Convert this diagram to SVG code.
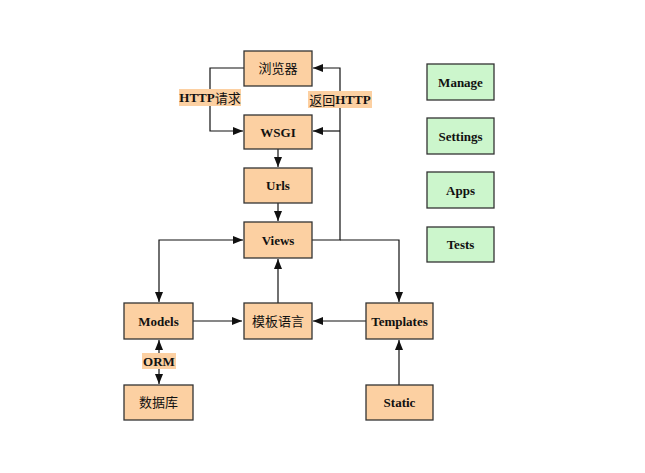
<svg xmlns="http://www.w3.org/2000/svg" width="645" height="473" viewBox="0 0 645 473">
<style>
.o{fill:#fcd0a2;stroke:#333;stroke-width:1.3}
.g{fill:#ccf6cc;stroke:#333;stroke-width:1.3}
.t{font-family:"Liberation Serif","Noto Sans CJK SC",serif;font-weight:bold;font-size:13px;fill:#111;text-anchor:middle;dominant-baseline:central}
.c{font-family:"Liberation Serif","Noto Sans CJK SC",serif;font-size:13px;fill:#111;text-anchor:middle;dominant-baseline:central}
.l{fill:none;stroke:#111;stroke-width:1.2}
.lb{fill:#fcd0a2}
</style>
<defs>
<marker id="a" viewBox="0 0 10 8" refX="10" refY="4" markerWidth="10" markerHeight="8" markerUnits="userSpaceOnUse" orient="auto-start-reverse"><path d="M0,0L10,4L0,8z" fill="#111"/></marker>
</defs>
<rect width="645" height="473" fill="#fff"/>
<g id="connectors">
<path class="l" d="M244,68H210V131H243" marker-end="url(#a)"/>
<path class="l" d="M312,240H340V68H313" marker-end="url(#a)"/>
<path class="l" d="M340,131H313" marker-end="url(#a)"/>
<path class="l" d="M278,149V167" marker-end="url(#a)"/>
<path class="l" d="M278,203V221" marker-end="url(#a)"/>
<path class="l" d="M243,240H159V302" marker-end="url(#a)" marker-start="url(#a)"/>
<path class="l" d="M340,240H399V302" marker-end="url(#a)"/>
<path class="l" d="M278,303V259" marker-end="url(#a)"/>
<path class="l" d="M193,321H242" marker-end="url(#a)"/>
<path class="l" d="M366,321H313" marker-end="url(#a)"/>
<path class="l" d="M399,385V340" marker-end="url(#a)"/>
<path class="l" d="M159,340V384" marker-end="url(#a)" marker-start="url(#a)"/>
<rect class="lb" x="179" y="89" width="62" height="17"/>
<text class="t" x="210" y="97.5">HTTP<tspan font-weight="normal">请求</tspan></text>
<rect class="lb" x="308" y="91" width="64" height="17"/>
<text class="t" x="340" y="99.5"><tspan font-weight="normal">返回</tspan>HTTP</text>
<rect class="lb" x="142" y="353" width="34" height="16"/>
<text class="t" x="159" y="361">ORM</text>
</g>
<g id="browser"><rect class="o" x="244" y="51" width="68" height="35"/><text class="c" x="278" y="68.5">浏览器</text></g>
<g id="wsgi"><rect class="o" x="244" y="115" width="68" height="34"/><text class="t" x="278" y="132">WSGI</text></g>
<g id="urls"><rect class="o" x="244" y="168" width="68" height="35"/><text class="t" x="278" y="185.5">Urls</text></g>
<g id="views"><rect class="o" x="244" y="222" width="68" height="36"/><text class="t" x="278" y="240">Views</text></g>
<g id="models"><rect class="o" x="124" y="303" width="69" height="36"/><text class="t" x="158.5" y="321">Models</text></g>
<g id="template-lang"><rect class="o" x="244" y="303" width="68" height="36"/><text class="c" x="278" y="321">模板语言</text></g>
<g id="templates"><rect class="o" x="366" y="303" width="67" height="36"/><text class="t" x="399.5" y="321">Templates</text></g>
<g id="database"><rect class="o" x="124" y="385" width="69" height="35"/><text class="c" x="158.5" y="402.5">数据库</text></g>
<g id="static"><rect class="o" x="366" y="385" width="67" height="35"/><text class="t" x="399.5" y="402.5">Static</text></g>
<g id="manage"><rect class="g" x="427" y="64" width="67" height="36"/><text class="t" x="460.5" y="82">Manage</text></g>
<g id="settings"><rect class="g" x="427" y="118" width="67" height="36"/><text class="t" x="460.5" y="136">Settings</text></g>
<g id="apps"><rect class="g" x="427" y="172" width="67" height="36"/><text class="t" x="460.5" y="190">Apps</text></g>
<g id="tests"><rect class="g" x="427" y="227" width="67" height="35"/><text class="t" x="460.5" y="244.5">Tests</text></g>
</svg>
